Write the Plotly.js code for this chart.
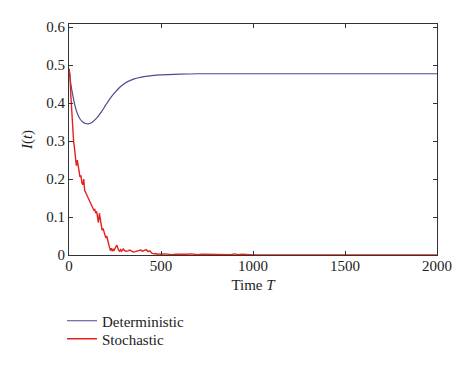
<!DOCTYPE html>
<html><head><meta charset="utf-8">
<script src="https://cdn.plot.ly/plotly-3.0.1.min.js"></script>
<style>body{margin:0;background:#fff}#c{width:474px;height:367px}</style>
</head><body><div id="c"></div>
<script>
const detT = [0,10,20,30,40,50,60,75,90,100,110,125,150,175,200,225,250,275,300,350,400,450,500,600,700,800,1000,1500,2000];
const detI = [0.49,0.45,0.422,0.398,0.38,0.367,0.358,0.35,0.346,0.345,0.346,0.349,0.36,0.376,0.395,0.413,0.428,0.441,0.451,0.463,0.469,0.472,0.474,0.476,0.477,0.477,0.477,0.477,0.477];
const stoT = [0,5,10,15,20,25,30,35,40,45,50,55,60,65,70,75,80,85,90,95,100,105,110,115,120,125,130,135,140,145,150,155,160,165,170,175,180,185,190,195,200,205,210,215,220,225,230,235,240,245,250,255,260,265,270,275,280,285,290,295,300,310,320,330,340,350,360,370,380,390,400,410,420,430,440,450,460,470,480,490,500,520,540,560,580,600,620,640,660,680,700,720,740,760,780,800,820,840,860,880,900,920,940,960,980,1000,1500,2000];
const stoI = [0.49,0.475,0.42,0.37,0.33,0.30,0.28,0.245,0.235,0.25,0.228,0.22,0.205,0.21,0.19,0.185,0.2,0.17,0.165,0.16,0.155,0.15,0.145,0.14,0.135,0.128,0.125,0.118,0.12,0.11,0.115,0.1,0.085,0.11,0.09,0.075,0.065,0.07,0.06,0.05,0.045,0.05,0.038,0.03,0.02,0.012,0.018,0.01,0.015,0.012,0.02,0.022,0.026,0.015,0.012,0.01,0.014,0.01,0.012,0.016,0.012,0.01,0.011,0.013,0.01,0.008,0.009,0.01,0.012,0.013,0.01,0.012,0.014,0.009,0.011,0.005,0.003,0.004,0.002,0.003,0.002,0.003,0.002,0.001,0.002,0.002,0.001,0.002,0.003,0.002,0.001,0.002,0.002,0.001,0.002,0.001,0.002,0.001,0.002,0.001,0.003,0.001,0.002,0.001,0.0005,0,0,0];
const seriesNames = ['Deterministic','Stochastic'];
const xTicks = [0,500,1000,1500,2000];
const yTicks = [0,0.1,0.2,0.3,0.4,0.5,0.6];
const fnt = {family:'Liberation Serif, Times New Roman, serif', size:15, color:'#222'};
const ax = {showline:true, mirror:'ticks', linecolor:'#333', linewidth:1, ticks:'inside', ticklen:4, tickcolor:'#333', showgrid:false, zeroline:false, tickfont:fnt, automargin:false};
const leg = {xanchor:'left', yanchor:'middle', x:-0.019, font:fnt, bgcolor:'rgba(0,0,0,0)'};
Plotly.newPlot('c', [
 {x:detT, y:detI, mode:'lines', name:seriesNames[0], legend:'legend', line:{color:'#4a4a96', width:1.2, shape:'spline'}},
 {x:stoT, y:stoI, mode:'lines', name:seriesNames[1], legend:'legend2', line:{color:'#e3221c', width:1.4}}
], {
 width:474, height:367, margin:{l:69, r:37, t:24, b:112, autoexpand:false},
 paper_bgcolor:'#fff', plot_bgcolor:'#fff', font:fnt,
 xaxis:Object.assign({}, ax, {range:[0,2000], tickvals:xTicks, ticklabelstandoff:-3, title:{text:'Time <i>T</i>', font:fnt, standoff:6}}),
 yaxis:Object.assign({}, ax, {range:[0,0.608], tickvals:yTicks, ticktext:yTicks.map(v=>v===0?'0':String(v)), title:{text:'<i>I</i>(<i>t</i>)', font:fnt, standoff:10}}),
 showlegend:true,
 legend:Object.assign({}, leg, {y:-0.2857}),
 legend2:Object.assign({}, leg, {y:-0.3636})
}, {staticPlot:true});
</script></body></html>
